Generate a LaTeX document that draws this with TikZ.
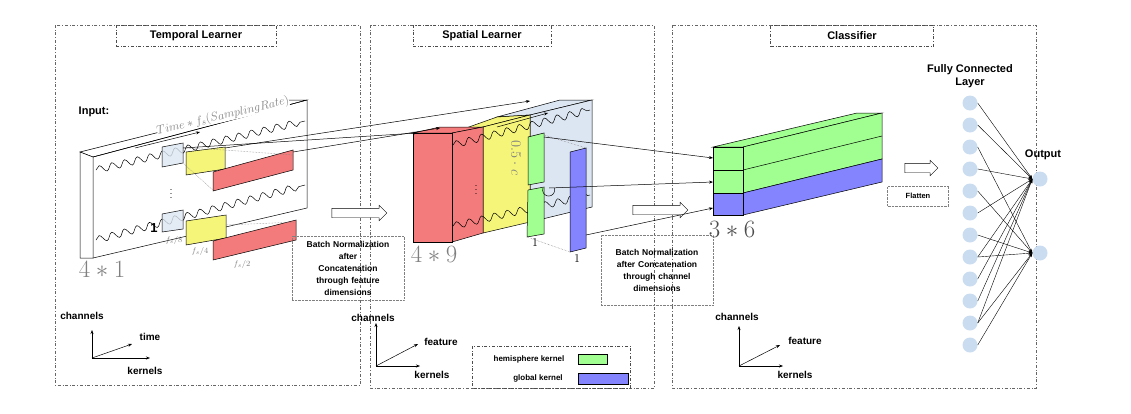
\documentclass[tikz,border=0pt]{standalone}
\usepackage{fontspec}
\setmainfont{Liberation Sans}
\usetikzlibrary{arrows.meta,decorations.pathmorphing,shapes.arrows}
\definecolor{cred}{HTML}{F47B7B}
\definecolor{cyel}{HTML}{F5F57A}
\definecolor{cblu}{HTML}{DCE6F2}
\definecolor{cgrn}{HTML}{A0FF90}
\definecolor{cpur}{HTML}{8484FF}
\definecolor{cneu}{HTML}{C9DCF0}
\begin{document}
\begin{tikzpicture}[x=1pt,y=-1pt,
  panel/.style={draw=gray!80!black,dash dot,line width=0.5pt},
  tbox/.style={draw=black!70,dash dot,minimum height=21pt,font=\fontsize{11}{13}\selectfont\bfseries},
  bnbox/.style={draw=gray,densely dotted,align=center,font=\fontsize{8.5}{12}\selectfont\bfseries,inner sep=2pt},
  lab/.style={font=\fontsize{10}{12}\selectfont\bfseries},
  face/.style={draw=black,line width=0.5pt},
  wave/.style={decorate,decoration={snake,segment length=13pt,amplitude=3.5pt},line width=0.5pt},
  hol/.style={single arrow,draw=black,fill=white,minimum height=55pt,inner xsep=0pt,inner ysep=4.5pt,single arrow head extend=3pt},
  neu/.style={circle,fill=cneu,minimum size=15pt,inner sep=0pt},
  ax/.style={-{Stealth[length=4pt]},line width=0.5pt},
  ln/.style={-{Stealth[length=4pt]},line width=0.5pt},
  dl/.style={densely dotted,gray,line width=0.5pt}]
\useasboundingbox (0,0) rectangle (1131,413);
% panels
\draw[panel] (55,25) rectangle (360,385);
\draw[panel] (370,25) rectangle (654,388);
\draw[panel] (672,25) rectangle (1036,388);
\node[tbox,minimum width=160pt,fill=white] (t1) at (196,36) {Temporal Learner};
\node[tbox,minimum width=138pt,fill=white] (t2) at (482,36) {Spatial Learner};
\node[tbox,minimum width=163pt,fill=white] (t3) at (852,36) {Classifier};
% ---------- temporal input slab
\node[font=\fontsize{11}{13}\selectfont\bfseries] (inp) at (94,112) {Input:};
\filldraw[face,fill=white] (80,152) -- (288,100) -- (307,100) -- (93,157) -- cycle;
\filldraw[face,fill=white] (80,152) -- (93,157) -- (93,258) -- (80,258) -- cycle;
\draw[face] (93,157) -- (307,100) -- (307,208) -- (93,258);
\node[rotate=13,text=gray,font=\fontsize{13}{15}\selectfont,fill=white,inner sep=0pt] (tl) at (223,116) {$Time * f_s(Sampling Rate)$};
\draw[ln] (135,148) -- (200,132);
\draw[wave] (96,170) -- (305,121);
\draw[wave] (96,240) -- (305,185);
\node[font=\small,inner sep=0pt] (dots1) at (171,191) {$\vdots$};
% kernels upper
\filldraw[face,fill=cblu,fill opacity=0.8] (162,147) -- (183,143) -- (183,163) -- (162,167) -- cycle;
\filldraw[face,fill=cyel] (186,152) -- (225,147) -- (225,169) -- (186,175) -- cycle;
\filldraw[face,fill=cred] (213,172) -- (293,150) -- (293,170) -- (213,191) -- cycle;
\draw[dl] (183,148) -- (225,150); \draw[dl] (183,163) -- (213,190);
\draw[dl] (225,150) -- (293,155);
% kernels lower
\filldraw[face,fill=cblu,fill opacity=0.8] (162,214) -- (183,210) -- (183,229) -- (162,232) -- cycle;
\filldraw[face,fill=cyel] (186,221) -- (226,215) -- (226,238) -- (186,245) -- cycle;
\filldraw[face,fill=cred] (213,241) -- (296,220) -- (296,240) -- (213,260) -- cycle;
\draw[dl] (226,225) -- (296,222);
\node[font=\fontsize{13}{13}\selectfont] (one) at (154,228) {$\mathbf{1}$};
\node[text=gray,font=\fontsize{8}{9}\selectfont] (f8) at (174,240) {$f_s/8$};
\node[text=gray,font=\fontsize{8}{9}\selectfont] (f4) at (200,251) {$f_s/4$};
\node[text=gray,font=\fontsize{8}{9}\selectfont] (f2) at (242,264) {$f_s/2$};
\node[text=gray,font=\fontsize{23}{23}\selectfont] (s41) at (102,269) {$4*1$};
% arrow + BN
\node[hol] (a1) at (357,213) {};
\node[bnbox,text width=108pt,minimum height=64pt] (bn1) at (348,268) {Batch Normalization\\after\\Concatenation\\through feature\\dimensions};
% ---------- spatial block
\filldraw[face,fill=cblu] (497,117) -- (560,100) -- (592,100) -- (530,115) -- cycle;
\filldraw[face,fill=cblu] (530,115) -- (592,100) -- (592,207) -- (530,222) -- cycle;
\filldraw[face,fill=cyel] (452,133) -- (497,117) -- (530,115) -- (483,127) -- cycle;
\filldraw[face,fill=cyel] (483,127) -- (530,115) -- (530,222) -- (483,233) -- cycle;
\filldraw[face,fill=cred] (413,133) -- (440,127) -- (483,127) -- (452,133) -- cycle;
\filldraw[face,fill=cred] (452,133) -- (483,127) -- (483,233) -- (452,242) -- cycle;
\filldraw[face,fill=cred] (413,133) -- (452,133) -- (452,242) -- (413,242) -- cycle;
\draw[wave] (453,145) -- (590,110);
\draw[wave] (453,226) -- (590,195);
\draw[ln] (497,127) -- (548,113);
\node[font=\small,inner sep=0pt] (dots2) at (476,187) {$\vdots$};
\node[rotate=-90,text=gray,font=\fontsize{15}{15}\selectfont] (half) at (516,158) {$0.5\cdot c$};
\filldraw[face,fill=cgrn] (528,137) -- (544,133) -- (544,182) -- (528,185) -- cycle;
\filldraw[face,fill=cgrn] (528,190) -- (544,187) -- (544,234) -- (527,237) -- cycle;
\filldraw[face,fill=cpur] (570,152) -- (586,148) -- (586,248) -- (570,252) -- cycle;
\draw[dl] (544,135) -- (586,148); \draw[dl] (527,237) -- (570,252);
\draw[line width=0.5pt] (543,188) arc (200:-20:6);
\node[font=\fontsize{12}{12}\selectfont] (o1) at (535,243) {$1$};
\node[font=\fontsize{12}{12}\selectfont] (o2) at (577,259) {$1$};
\node[text=gray,font=\fontsize{23}{23}\selectfont] (s49) at (434,254) {$4*9$};
% temporal -> spatial lines
\draw[ln] (183,148) -- (417,133);
\draw[ln] (225,148) -- (530,101);
\draw[ln] (293,152) -- (440,128);
% arrow + BN 2
\node[hol] (a2) at (658,210) {};
\node[bnbox,text width=108pt,minimum height=70pt] (bn2) at (657,270) {Batch Normalization\\after Concatenation\\through channel\\dimensions};
% ---------- classifier block
\filldraw[face,fill=cgrn] (713,147) -- (857,113) -- (882,113) -- (743,147) -- cycle;
\filldraw[face,fill=cgrn] (743,147) -- (882,113) -- (882,159) -- (743,193) -- cycle;
\filldraw[face,fill=cpur] (743,193) -- (882,159) -- (882,182) -- (743,215) -- cycle;
\draw[face] (743,170) -- (882,136);
\filldraw[face,fill=cgrn] (713,147) rectangle (743,193);
\filldraw[face,fill=cpur] (713,193) rectangle (743,215);
\draw[face] (713,170) -- (743,170);
\node[text=gray!60!black,font=\fontsize{23}{23}\selectfont] (s36) at (732,229) {$3*6$};
\coordinate (c1) at (713,158); \coordinate (c2) at (713,182); \coordinate (c3) at (713,208);
\draw[ln] (544,137) -- (c1);
\draw[ln] (549,188) -- (c2);
\draw[ln] (586,235) -- (c3);
% flatten
\node[hol,minimum height=33pt] (a3) at (919,168) {};
\node[bnbox,minimum width=61pt,minimum height=20pt,font=\fontsize{7.5}{9}\selectfont\bfseries] (fl) at (918,196) {Flatten};
% FC
\node[font=\fontsize{11}{13}\selectfont\bfseries,align=center] (fcl) at (970,76) {Fully Connected\\Layer};
\node[font=\fontsize{11}{13}\selectfont\bfseries] (outl) at (1043,155) {Output};
\foreach \i in {1,...,12} {\node[neu] (n\i) at (970,{103+22*(\i-1)}) {};}
\node[neu] (y1) at (1040,179) {};
\node[neu] (y2) at (1040,253) {};
\foreach \i/\o in {1/1,2/1,3/2,4/1,5/2,6/1,7/2,8/2,9/1,10/1,11/2,12/2,8/1,11/1}
  {\draw[-{Stealth[length=4pt]},line width=0.4pt] (n\i.east) -- (y\o.west);}
% axes temporal
\coordinate (ao1) at (92,358);
\draw[ax] (ao1) -- (92,330); \draw[ax] (ao1) -- (150,358); \draw[ax] (ao1) -- (132,344);
\node[lab] (ch1) at (82,316) {channels};
\node[lab] (k1) at (145,371) {kernels};
\node[lab] (tm1) at (150,337) {time};
% axes spatial
\coordinate (ao2) at (376,366);
\draw[ax] (ao2) -- (376,323); \draw[ax] (ao2) -- (420,366); \draw[ax] (ao2) -- (418,344);
\node[lab] (ch2) at (373,318) {channels};
\node[lab] (k2) at (432,375) {kernels};
\node[lab] (fe2) at (441,342) {feature};
% legend
\draw[draw=black!70,dash dot] (472,346) rectangle (630,388);
\node[font=\fontsize{8}{10}\selectfont\bfseries] (lh) at (529,359) {hemisphere kernel};
\node[font=\fontsize{8}{10}\selectfont\bfseries] (lg) at (538,378) {global kernel};
\filldraw[face,fill=cgrn] (578,354) rectangle (607,364);
\filldraw[face,fill=cpur] (578,373) rectangle (628,384);
% axes classifier
\coordinate (ao3) at (739,366);
\draw[ax] (ao3) -- (739,326); \draw[ax] (ao3) -- (783,366); \draw[ax] (ao3) -- (780,345);
\node[lab] (ch3) at (737,317) {channels};
\node[lab] (k3) at (795,375) {kernels};
\node[lab] (fe3) at (805,341) {feature};
\end{tikzpicture}
\end{document}
